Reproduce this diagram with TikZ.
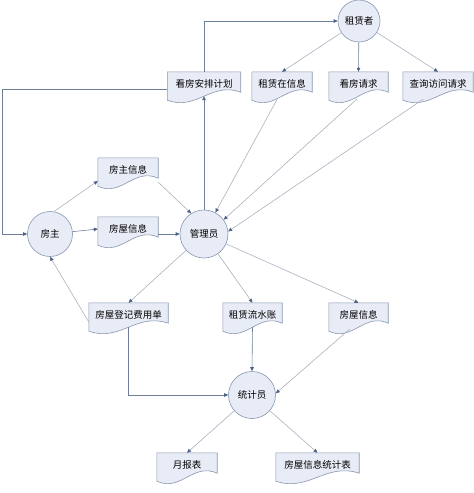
\documentclass[tikz,border=0pt]{standalone}
\usepackage{fontspec}
\setmainfont{Noto Sans CJK SC}
\usetikzlibrary{arrows.meta,calc,backgrounds}
\definecolor{docfill}{HTML}{E8ECF6}
\definecolor{docline}{HTML}{8796AE}
\definecolor{lineDark}{HTML}{6F7F97}
\definecolor{lineLight}{HTML}{A9B2BF}
\definecolor{tipc}{HTML}{4C6288}
\tikzset{
    entity/.style = {
        circle,
        draw = docline,
        fill = docfill,
        line width = 0.6pt,
        minimum size = 45pt,
        inner sep = 0pt,
        font = \fontsize{9.5}{11}\selectfont,
        },
    document/.style = {
        rectangle,
        inner sep = 0pt,
        minimum height = 24pt,
        font = \fontsize{9.5}{11}\selectfont,
        },
    document shape/.style = {
        draw = docline,
        fill = docfill,
        line width = 0.6pt,
        },
    flow/.style = {
        draw = lineDark,
        line width = 0.6pt,
        -{Triangle[length=4pt, width=3.5pt, color=tipc]},
        },
    flow light/.style = {
        flow,
        draw = lineLight,
        },
}
\begin{document}
\begin{tikzpicture}[x=1pt, y=1pt]
    \useasboundingbox (0,0) rectangle (474,-493);

    % people
    \node [entity, minimum size=42pt] (renter) at (359,-21) {租赁者};
    \node [entity] (owner) at (50,-234) {房主};
    \node [entity, minimum size=48pt] (admin) at (204,-234) {管理员};
    \node [entity, minimum size=47pt] (stat) at (252,-395) {统计员};

    % documents
    \node [document, minimum width=73pt] (plan) at (204,-84) {看房安排计划};
    \node [document, minimum width=60pt] (rentinfo) at (282,-84) {租赁在信息};
    \node [document, minimum width=59pt] (viewreq) at (358.5,-84) {看房请求};
    \node [document, minimum width=70pt] (query) at (438,-84) {查询访问请求};
    \node [document, minimum width=60pt] (ownerinfo) at (128,-170) {房主信息};
    \node [document, minimum width=60pt] (houseinfo) at (128,-229) {房屋信息};
    \node [document, minimum width=79pt] (regform) at (128.5,-315) {房屋登记费用单};
    \node [document, minimum width=59pt] (ledger) at (252.5,-315) {租赁流水账};
    \node [document, minimum width=59pt] (houseinfob) at (358.5,-315) {房屋信息};
    \node [document, minimum width=60pt] (monthly) at (187,-465) {月报表};
    \node [document, minimum width=83pt] (stattable) at (317.5,-465) {房屋信息统计表};

    \begin{scope}[on background layer]
        \foreach \d in {plan,rentinfo,viewreq,query,ownerinfo,houseinfo,regform,ledger,houseinfob,monthly,stattable}
            \draw [document shape] (\d.north west) -- (\d.north east) -- ($(\d.south east)+(0,4)$)
                .. controls ($(\d.south east)!0.4!(\d.south west)+(0,15)$) and ($(\d.south east)!0.6!(\d.south west)+(0,-15)$)
                .. ($(\d.south west)+(0,-4)$) -- cycle;
    \end{scope}

    % renter side
    \draw [flow] (plan.north) |- (renter.west);
    \draw [flow light] (renter) -- (rentinfo.north);
    \draw [flow] (renter) -- (viewreq.north);
    \draw [flow light] (renter) -- (query.north);
    \draw [flow light] ($(rentinfo.south west)!0.42!(rentinfo.south east)+(0,-3)$) -- (admin.62);
    \draw [flow light] ($(viewreq.south west)!0.47!(viewreq.south east)+(0,-3)$) -- (admin.36);
    \draw [flow light] ($(query.south west)!0.29!(query.south east)+(0,-3)$) -- (admin.6);
    \draw [flow] (admin.north) -- (admin.north |- plan.south);

    % owner side
    \coordinate (leftturn) at (2,-89);
    \draw [flow] (leftturn -| plan.west) -- (leftturn) |- (owner.west);
    \draw [flow light] (owner.80) -- (ownerinfo.-160);
    \draw [flow] (owner) -- (houseinfo.west);
    \draw [flow light] (ownerinfo.south east) -- (admin.122);
    \draw [flow] (houseinfo.east |- admin) -- (admin);
    \draw [flow light] (regform.-170) -- (owner.south);

    % statistics
    \draw [flow light] (admin) -- (regform.north);
    \draw [flow light] (admin) -- (ledger.north);
    \draw [flow light] (admin) -- (houseinfob.north);
    \draw [flow] (regform.south) |- (stat.west);
    \draw [flow] (ledger.south) -- (stat.north);
    \draw [flow light] ($(houseinfob.south west)!0.35!(houseinfob.south east)+(0,-2)$) -- (stat.4);
    \draw [flow light] (stat) -- (monthly.north);
    \draw [flow light] (stat) -- (stattable.north);
\end{tikzpicture}
\end{document}
